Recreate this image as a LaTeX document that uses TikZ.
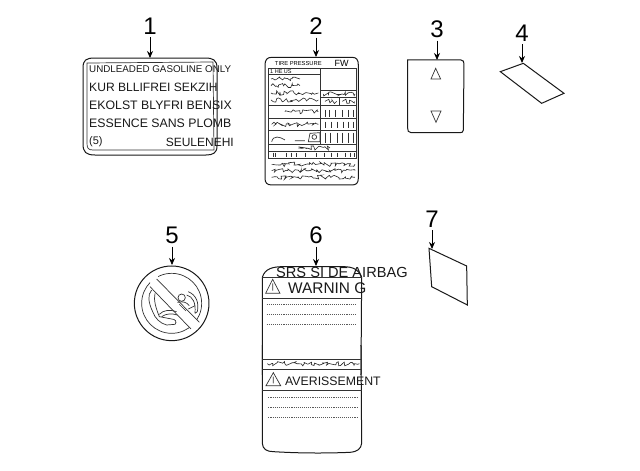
\documentclass[tikz,border=0pt]{standalone}
\usepackage{fontspec}
\setmainfont{Liberation Sans}
\usetikzlibrary{decorations.pathmorphing,arrows.meta}
\tikzset{
  x=1pt,y=-1pt,
  num/.style={inner sep=0pt,font=\fontsize{24}{24}\selectfont},
  lead/.style={-{Stealth[length=7pt,width=6pt]},line width=0.8pt},
  outline/.style={line width=1pt,black!90},
  thin line/.style={line width=0.7pt,black!80},
  lbl/.style={inner sep=0pt,anchor=west,text=black!90},
  scrib/.style={line width=0.6pt,black!85,decorate,decoration={random steps,segment length=1.8pt,amplitude=2.2pt}},
  dots/.style={line width=0.7pt,black!65,dash pattern=on 1.1pt off 1pt},
  crop/.style={x=0.3333pt,y=-0.3333pt},
}
\begin{document}
\begin{tikzpicture}
\pgfmathsetseed{7}
\useasboundingbox[fill=white] (0,0) rectangle (640,471);
% numbers and leaders
\node[num] (n1) at (150,26) {1};
\node[num] (n2) at (316,26) {2};
\node[num] (n3) at (437,29) {3};
\node[num] (n4) at (522,33) {4};
\node[num] (n5) at (172,235) {5};
\node[num] (n6) at (316,235) {6};
\node[num] (n7) at (432,219) {7};
\coordinate (t1) at (150,58);
\coordinate (t2) at (316,57);
\coordinate (t3) at (437,60);
\coordinate (t4) at (522,63);
\coordinate (t5) at (172,265);
\coordinate (t6) at (316,266);
\coordinate (t7) at (432,249);
\foreach \i in {1,...,7} {\draw[lead] (n\i.south) ++(0,3) -- (t\i);}
% label 1
\draw[outline] (95,58) -- (205,58) .. controls (213,58) and (217,60) .. (217,68) -- (217,146) .. controls (217,153) and (213,155) .. (206,155) -- (95,155) .. controls (86,155) and (83,152) .. (83,144) -- (83,68) .. controls (83,60) and (86,58) .. (95,58) -- cycle;
\draw[thin line] (87,63) -- (213,62) -- (214,150) -- (93,150) .. controls (88,150) and (87,148) .. (87,143) -- cycle;
\node[lbl,font=\fontsize{9.8}{10.2}\selectfont] (a1) at (89,69) {UNDLEADED GASOLINE ONLY};
\node[lbl,font=\fontsize{12.1}{11}\selectfont] (a2) at (89,87) {KUR BLLIFREI SEKZIH};
\node[lbl,font=\fontsize{12.3}{11}\selectfont] (a3) at (89,105) {EKOLST BLYFRI BENSIX};
\node[lbl,font=\fontsize{12.3}{11}\selectfont] (a4) at (89,123) {ESSENCE SANS PLOMB};
\node[lbl,font=\fontsize{11}{11}\selectfont] (a5) at (89,142) {(5)};
\node[lbl,anchor=east,font=\fontsize{12}{11}\selectfont] (a6) at (234,142) {SEULENEHI};
% label 2
\begin{scope}[shift={(255,10)},crop]
\draw[outline] (50,142) -- (292,142) .. controls (305,142) and (310,150) .. (310,165) -- (310,505) .. controls (310,520) and (303,525) .. (290,525) -- (50,525) .. controls (36,525) and (30,518) .. (30,505) -- (30,165) .. controls (30,150) and (36,142) .. (50,142) -- cycle;
\node[inner sep=0pt,font=\fontsize{5.8}{7}\selectfont] (t2a) at (130,160) {TIRE PRESSURE};
\node[inner sep=0pt,font=\fontsize{9}{9}\selectfont] (t2b) at (260,159) {FW};
\draw[thin line] (40,175) rectangle (305,445);
\draw[thin line] (40,192) -- (197,192);
\draw[thin line] (197,175) -- (197,403);
\foreach \y in {285,325,360,403,425} \draw[thin line] (40,\y) -- (305,\y);
\draw[thin line] (197,240) -- (305,240) (197,262) -- (305,262) (252,262) -- (252,285);
\node[inner sep=0pt,anchor=west,font=\fontsize{5.5}{5}\selectfont] (t2c) at (45,184) {1 HE US};
\foreach \xa/\xb/\y in {48/135/207, 48/135/227, 48/190/249, 48/190/270, 90/190/305, 50/190/343, 205/300/252, 210/245/274, 262/298/274, 130/225/414, 50/300/463, 50/300/482, 50/300/502} {
  \draw[scrib] (\xa,\y) -- (\xb,\y);
}
\foreach \x in {210,222,240,262,280,296} \draw[thin line] (\x,300) -- (\x,320);
\foreach \x in {212,228,246,264,280,296} \draw[thin line] (\x,335) -- (\x,355);
\foreach \x in {212,226,246,262,280,296} \draw[thin line] (\x,368) -- (\x,398);
\foreach \x in {55,62,95,108,125,150,185,207,230,246,272,285,298} \draw[thin line] (\x,428) -- (\x,442);
\draw[thin line] (50,395) .. controls (55,375) and (75,380) .. (90,390) (120,392) -- (150,392);
\draw[thin line] (160,395) -- (165,370) -- (195,368) -- (195,395) -- cycle (178,381) circle (7);
\end{scope}
% label 3
\begin{scope}[shift={(395,10)},crop]
\draw[outline] (38,150) -- (198,150) .. controls (205,150) and (207,155) .. (207,162) -- (205,360) .. controls (205,367) and (200,368) .. (195,368) -- (48,368) .. controls (40,368) and (38,362) .. (38,355) -- cycle;
\draw[thin line] (108,207) -- (122,175) -- (137,207) -- cycle;
\draw[thin line] (108,303) -- (138,303) -- (123,337) -- cycle;
% label 4
\draw[outline] (316,185) -- (385,160) -- (507,250) -- (440,280) -- cycle;
\end{scope}
% label 5
\begin{scope}[shift={(120,215)},crop]
\draw[outline] (155,265) circle (112);
\draw[thin line] (155,265) circle (90);
\fill[white] (88,200) -- (110,180) -- (240,325) -- (215,345) -- cycle;
\draw[thin line] (110,192) -- (238,322) (90,215) -- (213,342);
% seat
\draw[thin line] (95,225) .. controls (82,240) and (85,262) .. (98,290) .. controls (105,310) and (120,325) .. (140,330) -- (165,328) .. controls (172,320) and (165,312) .. (155,312) -- (118,305) .. controls (108,280) and (100,255) .. (105,235);
\draw[thin line] (118,298) .. controls (130,285) and (150,283) .. (170,290) (125,305) .. controls (140,295) and (155,295) .. (172,300);
% person and bag
\draw[thin line] (185,248) circle (11);
\draw[thin line] (172,262) .. controls (190,258) and (200,262) .. (208,272) (178,268) -- (198,288) (205,282) -- (225,272);
\draw[thin line] (205,230) .. controls (228,240) and (238,262) .. (232,290) (200,240) .. controls (218,245) and (228,262) .. (225,295) (232,290) -- (225,295);
\end{scope}
% label 6
\begin{scope}[shift={(250,220)},crop]
\draw[outline] (37,465) -- (37,172) .. controls (45,145) and (70,140) .. (100,140) -- (280,140) .. controls (310,140) and (328,150) .. (335,172) -- (333,465);
\draw[thin line] (37,172) -- (335,172) (37,235) -- (335,235);
\draw[thin line] (47,220) -- (68,178) -- (90,220) -- cycle (68,190) -- (68,212);
\foreach \y in {252,283,312} \draw[dots] (50,\y) -- (318,\y);
\end{scope}
\node[lbl,font=\fontsize{14.6}{13}\selectfont] (b1) at (276,272) {SRS SI DE AIRBAG};
\node[lbl,font=\fontsize{15.4}{16}\selectfont] (b2) at (288,288) {WARNIN G};
\begin{scope}[shift={(250,345)},crop]
\draw[outline] (37,0) -- (37,295) .. controls (38,312) and (50,320) .. (70,320) .. controls (150,325) and (230,325) .. (300,322) .. controls (322,320) and (333,312) .. (335,295) -- (333,0);
\draw[thin line] (37,42) -- (335,42) (37,72) -- (335,72) (37,135) -- (335,135);
\draw[scrib] (52,56) -- (328,56);
\draw[thin line] (48,122) -- (70,83) -- (92,122) -- cycle (70,95) -- (70,115);
\foreach \y in {158,188,218} \draw[dots] (55,\y) -- (325,\y);
\end{scope}
\node[lbl,font=\fontsize{12.3}{11}\selectfont] (b3) at (285,381) {AVERISSEMENT};
% label 7
\begin{scope}[shift={(415,205)},crop]
\draw[outline] (42,130) -- (155,183) -- (157,300) -- (50,245) -- cycle;
\end{scope}
\end{tikzpicture}
\end{document}
